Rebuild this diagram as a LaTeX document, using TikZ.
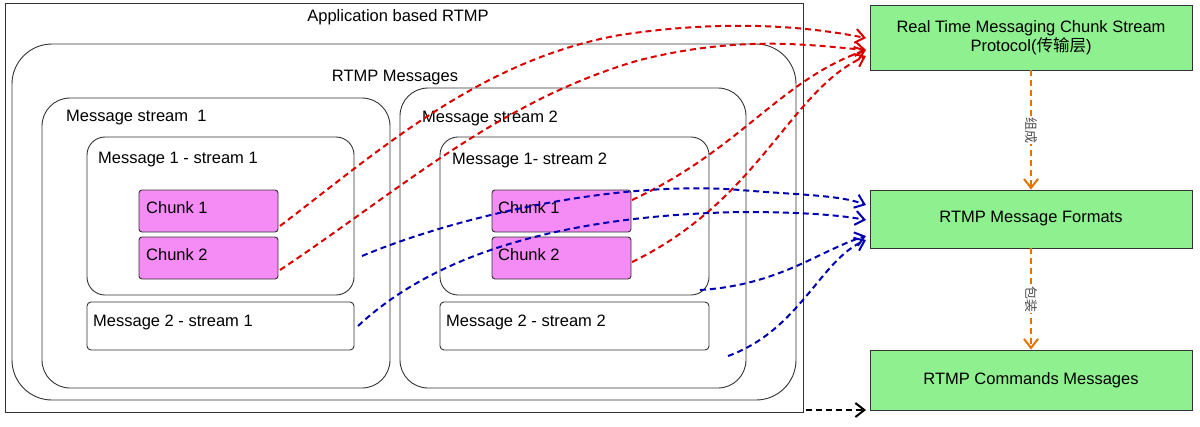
\documentclass[tikz,border=0pt]{standalone}
\usepackage{fontspec}
\setmainfont{Liberation Sans}
\newfontfamily\cjk{Noto Sans CJK SC}
\usetikzlibrary{arrows.meta}
\definecolor{chk}{HTML}{F58CF5}
\definecolor{grn}{HTML}{8EF08E}
\begin{document}
\begin{tikzpicture}[x=1pt,y=-1pt,font=\fontsize{16.5}{19}\selectfont,
 box/.style={draw=black!80,line width=0.9pt},
 chunk/.style={draw=black!80,fill=chk,line width=0.9pt,rounded corners=3pt},
 green/.style={draw=black!80,fill=grn,line width=0.9pt,align=center},
 lbl/.style={anchor=west,inner sep=0},
 arr/.style={dashed,line width=2pt,dash pattern=on 6pt off 4pt,-{Straight Barb[length=9pt,width=14pt]}},
 red/.style={arr,draw=red!85!black},
 blue/.style={arr,draw=blue!70!black},
 org/.style={arr,draw=orange!90!black}]
\useasboundingbox (0,0) rectangle (1200,426);
\draw[box] (5,3) rectangle (803,412);
\node (t) at (398,17) {Application based RTMP};
\draw[box,rounded corners=40pt] (12,44) rectangle (796,400);
\node (rm) at (395,78) {RTMP Messages};
\draw[box,rounded corners=28pt] (42,98) rectangle (390,388);
\node[lbl] (ms1) at (66,118) {Message stream\ \ 1};
\draw[box,rounded corners=28pt] (400,88) rectangle (746,388);
\node[lbl] (ms2) at (422,118) {Message stream 2};
\draw[box,rounded corners=18pt] (87,137) rectangle (354,295);
\node[lbl] (m11) at (98,160) {Message 1 - stream 1};
\draw[box,rounded corners=18pt] (440,137) rectangle (709,295);
\node[lbl] (m12) at (452,160) {Message 1- stream 2};
\draw[box,rounded corners=4pt] (87,302) rectangle (354,350);
\node[lbl] (m21) at (93,322) {Message 2 - stream 1};
\draw[box,rounded corners=4pt] (440,302) rectangle (709,350);
\node[lbl] (m22) at (446,322) {Message 2 - stream 2};
\draw[chunk] (139,190) rectangle (278,232);
\node[lbl] (c11) at (146,208) {Chunk 1};
\draw[chunk] (139,237) rectangle (278,279);
\node[lbl] (c21) at (146,255) {Chunk 2};
\draw[chunk] (492,190) rectangle (631,232);
\node[lbl] (c12) at (498,208) {Chunk 1};
\draw[chunk] (492,237) rectangle (631,279);
\node[lbl] (c22) at (498,255) {Chunk 2};
\node[green,minimum width=322pt,minimum height=65pt] (g1) at (1031,37.5) {Real Time Messaging Chunk Stream\\Protocol({\cjk 传输层})};
\node[green,minimum width=322pt,minimum height=58pt] (g2) at (1031,219) {RTMP Message Formats};
\node[green,minimum width=322pt,minimum height=60pt] (g3) at (1031,380) {RTMP Commands Messages};
\draw[org] (g1.south) -- node[fill=white,rotate=-90,inner sep=1pt,font=\cjk\fontsize{13}{15}\selectfont,text=black!70] {组成} (g2.north);
\draw[org] (g2.south) -- node[fill=white,rotate=-90,inner sep=1pt,font=\cjk\fontsize{13}{15}\selectfont,text=black!70] {包装} (g3.north);
% red
\coordinate (r1) at (866,38); \coordinate (r2) at (866,50);
\draw[red] (280,226) .. controls (380,150) and (480,60) .. (620,35) .. controls (720,20) and (800,25) .. (r1);
\draw[red] (280,270) .. controls (400,190) and (500,100) .. (640,60) .. controls (740,35) and (810,45) .. (r2);
\draw[red] (632,200) .. controls (740,150) and (780,80) .. (r2);
\draw[red] (632,262) .. controls (760,200) and (790,90) .. (866,56);
% blue
\coordinate (b1) at (866,205); \coordinate (b2) at (866,220); \coordinate (b3) at (866,236);
\draw[blue] (362,256) .. controls (460,215) and (620,180) .. (740,190) .. controls (800,195) and (840,195) .. (b1);
\draw[blue] (358,326) .. controls (450,240) and (600,215) .. (740,212) .. controls (800,212) and (840,215) .. (b2);
\draw[blue] (700,290) .. controls (780,285) and (820,250) .. (b3);
\draw[blue] (728,356) .. controls (800,330) and (820,260) .. (866,240);
\coordinate (k) at (866,410);
\draw[arr,draw=black] (806,410) -- (k);
\end{tikzpicture}
\end{document}
